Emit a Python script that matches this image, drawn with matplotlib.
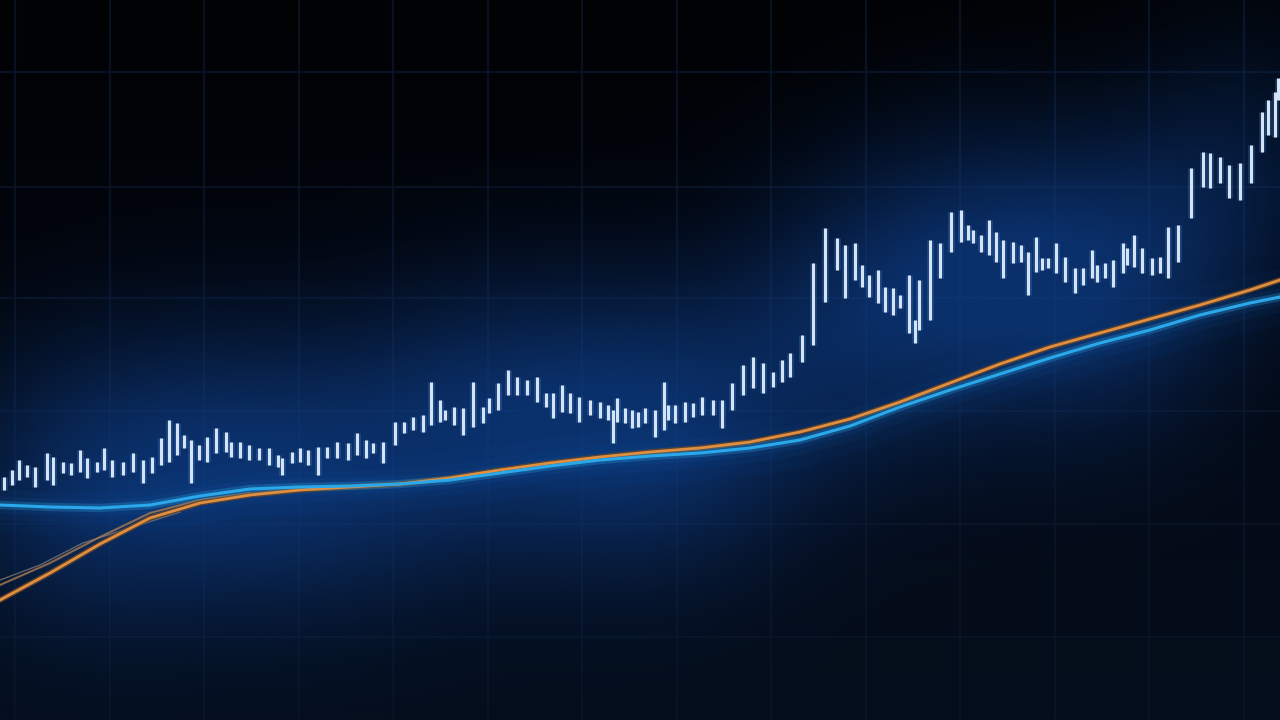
import numpy as np
import matplotlib
matplotlib.use('Agg')
import matplotlib.pyplot as plt
from matplotlib.colors import to_rgb

# candle times and high / low prices
t = [4, 12, 19, 27, 35, 47, 53, 63, 71, 80, 87, 97, 104, 112, 123, 133, 143, 152, 161, 169,
     177, 184, 191, 199, 207, 216, 226, 231, 240, 249, 259, 269, 278, 282, 292, 300, 308, 318,
     327, 337, 348, 357, 366, 373, 383, 395, 404, 413, 423, 431, 440, 445, 454, 463, 473, 483,
     489, 498, 508, 517, 527, 537, 546, 553, 562, 570, 579, 590, 600, 608, 613, 617, 625, 632,
     638, 645, 655, 664, 668, 675, 685, 693, 702, 713, 722, 732, 743, 753, 763, 773, 782, 790,
     802, 813, 825, 837, 845, 855, 862, 869, 878, 885, 893, 900, 909, 915, 919, 930, 940, 951,
     961, 968, 973, 981, 989, 996, 1003, 1013, 1021, 1028, 1036, 1042, 1048, 1056, 1065, 1075,
     1083, 1092, 1097, 1105, 1113, 1123, 1127, 1134, 1142, 1152, 1160, 1168, 1178, 1191, 1203,
     1210, 1220, 1229, 1240, 1251, 1262, 1268, 1275, 1278]
high = [243, 250, 260, 255, 253, 267, 263, 258, 257, 270, 262, 258, 272, 260, 258, 267, 260, 263, 282, 300,
        297, 285, 280, 275, 283, 292, 288, 278, 278, 275, 272, 272, 265, 262, 268, 272, 270, 273,
        273, 278, 277, 287, 280, 277, 278, 298, 298, 303, 305, 338, 320, 310, 313, 312, 338, 313,
        322, 337, 350, 343, 340, 343, 327, 327, 335, 327, 323, 320, 318, 315, 310, 322, 312, 310,
        308, 312, 310, 338, 315, 315, 318, 317, 323, 320, 320, 337, 355, 363, 357, 348, 360, 367,
        385, 457, 492, 482, 475, 477, 455, 445, 450, 433, 432, 425, 445, 400, 440, 480, 477, 508,
        510, 495, 490, 485, 500, 488, 480, 478, 475, 468, 483, 462, 462, 477, 463, 452,
        452, 470, 455, 457, 460, 477, 472, 485, 472, 462, 463, 493, 495, 552, 568,
        567, 563, 555, 557, 575, 608, 620, 628, 642]
low = [230, 235, 240, 243, 233, 240, 235, 247, 245, 248, 242, 248, 250, 243, 245, 248, 237, 247, 255, 258,
       265, 272, 237, 260, 258, 267, 268, 263, 262, 260, 260, 255, 253, 245, 257, 258, 255, 245,
       262, 262, 260, 265, 262, 267, 257, 275, 287, 290, 288, 295, 298, 300, 295, 285, 293, 297,
       307, 310, 325, 325, 325, 318, 313, 302, 308, 307, 298, 305, 302, 300, 277, 298, 297, 292,
       293, 297, 283, 290, 300, 297, 298, 303, 305, 305, 292, 310, 325, 332, 327, 333, 338, 343,
       358, 375, 418, 450, 422, 440, 433, 423, 417, 408, 405, 412, 387, 377, 390, 400, 442, 468,
       478, 480, 477, 468, 465, 458, 442, 457, 458, 425, 448, 450, 452, 447, 438, 427,
       435, 442, 438, 442, 433, 447, 455, 453, 447, 445, 447, 442, 458, 502, 533,
       532, 537, 522, 520, 537, 568, 585, 583, 620]

# moving averages
ma_t = [0, 50, 100, 150, 200, 250, 300, 350, 400, 450, 500, 550, 600, 650, 700, 750, 800, 850,
        900, 950, 1000, 1050, 1100, 1150, 1200, 1250, 1280]
ma_fast = [215, 213, 212, 215, 224, 231, 233, 234, 236, 240, 247, 254, 260, 264, 267, 272, 280, 294,
           313, 330, 346, 362, 377, 390, 405, 417, 423]
ma_slow = [120, 147, 176, 202, 217, 225, 230, 233, 236, 242, 250, 257, 263, 268, 272, 278, 288, 301,
           318, 337, 356, 373, 387, 401, 415, 430, 440]
ma_slow2_t = [0, 50, 100, 150, 200, 250]
ma_slow2 = [135, 157, 183, 207, 220, 227]
ma_thin_t = [0, 40, 83, 133, 180]
ma_thin = [140, 155, 177, 193, 208]

fig = plt.figure(figsize=(12.8, 7.2), dpi=100)
fig.patch.set_facecolor('#02050b')
ax = fig.add_axes([0, 0, 1, 1])
ax.set_xlim(0, 1280)
ax.set_ylim(0, 720)
ax.set_facecolor('#02050b')

# dark vertical background gradient
grad = np.linspace(0, 1, 256).reshape(-1, 1)
bg = matplotlib.colors.LinearSegmentedColormap.from_list('bg', ['#050e1c', '#040b17', '#02050c', '#010204'])
ax.imshow(grad, cmap=bg, aspect='auto', extent=[0, 1280, 0, 720], origin='lower', zorder=0)

# faint grid
ax.set_xticks([15 + 94.5 * k for k in range(14)])
ax.set_yticks([648, 533, 422, 309, 196, 83])
ax.grid(True, color='#0a1526', lw=1.6, alpha=0.8, zorder=1)
ax.tick_params(length=0, labelbottom=False, labelleft=False)
for s in ax.spines.values():
    s.set_visible(False)

# soft blue glow around the candles
mid = [(h + l) / 2 - 20 for h, l in zip(high, low)]
gx, gy = np.meshgrid(np.linspace(0, 1280, 321), np.linspace(0, 720, 181))
glow = np.zeros_like(gx)
for ti, mi in zip(t, mid):
    glow += np.exp(-0.5 * ((gx - ti) / 80) ** 2 - 0.5 * ((gy - mi) / 105) ** 2)
glow = np.clip(glow / np.percentile(glow, 97), 0, 1)
rgba = np.zeros(gx.shape + (4,))
rgba[..., :3] = to_rgb('#0e4190')
rgba[..., 3] = glow ** 1.1 * 0.72
ax.imshow(rgba, extent=[0, 1280, 0, 720], origin='lower', aspect='auto',
          interpolation='bicubic', zorder=2)

# glow under moving averages
for w, a in [(40, 0.04), (22, 0.06), (12, 0.09)]:
    ax.plot(ma_t, ma_fast, color='#1b6fd0', lw=w, alpha=a, solid_capstyle='round', zorder=3)

# candles
ax.vlines(t, low, high, color='#5a9ae6', lw=5, alpha=0.22, zorder=4)
ax.vlines(t, low, high, color='#d4e3f5', lw=2.2, zorder=5)

# moving average lines
ax.plot(ma_thin_t, ma_thin, color='#8a7f78', lw=1, alpha=0.7, zorder=6)
ax.plot(ma_slow2_t, ma_slow2, color='#a87a4e', lw=1.5, alpha=0.8, zorder=6)
ax.plot(ma_t, ma_slow, color='#6b4526', lw=4, alpha=0.8, zorder=6)
ax.plot(ma_t, ma_slow, color='#df8f3f', lw=2, zorder=7)
ax.plot(ma_t, ma_fast, color='#2fb2f0', lw=6, alpha=0.25, zorder=6)
ax.plot(ma_t, ma_fast, color='#2aa8ea', lw=2.2, zorder=7)

fig.savefig('out.png', dpi=100, facecolor=fig.get_facecolor())
